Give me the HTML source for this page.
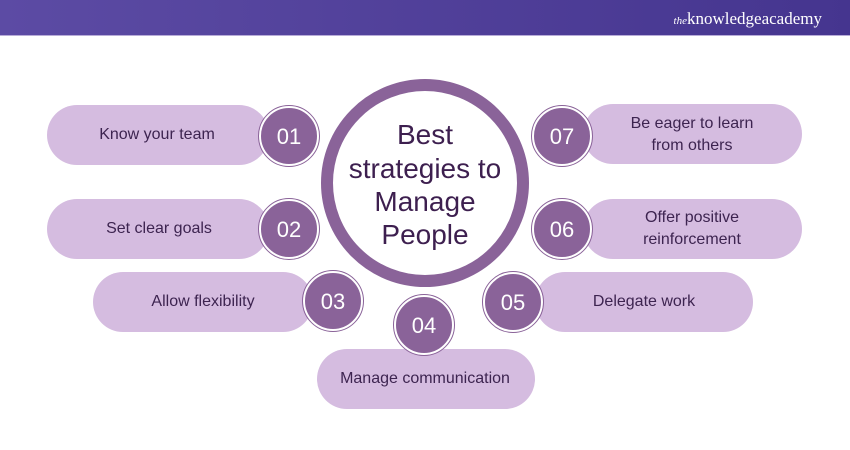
<!DOCTYPE html>
<html><head><meta charset="utf-8"><style>
body{margin:0;background:#fff;}
svg{display:block;}
text{font-family:"Liberation Sans",sans-serif;}
</style></head><body>
<svg width="850" height="450" viewBox="0 0 850 450" xmlns="http://www.w3.org/2000/svg">
<defs><linearGradient id="hg" x1="0" x2="1"><stop offset="0" stop-color="#5c4ba4"/><stop offset="1" stop-color="#45358f"/></linearGradient></defs>
<rect x="0" y="0" width="850" height="36" fill="url(#hg)"/>
<rect x="0" y="35" width="850" height="1" fill="#b8acd8"/>
<text x="822" y="24" text-anchor="end" fill="#fff" font-size="17" style="font-family:'Liberation Serif',serif"><tspan font-style="italic" font-size="11">the</tspan>knowledgeacademy</text>

<g fill="#d5bce0">
<rect x="47" y="105" width="222" height="60" rx="30"/>
<rect x="47" y="199" width="222" height="60" rx="30"/>
<rect x="93" y="272" width="220" height="60" rx="30"/>
<rect x="317" y="349" width="218" height="60" rx="30"/>
<rect x="535" y="272" width="218" height="60" rx="30"/>
<rect x="583" y="104" width="219" height="60" rx="30"/>
<rect x="583" y="199" width="219" height="60" rx="30"/>
</g>
<g fill="#3d2450" font-size="16" text-anchor="middle">
<text x="157" y="139">Know your team</text>
<text x="159" y="233">Set clear goals</text>
<text x="203" y="306">Allow flexibility</text>
<text x="425" y="383">Manage communication</text>
<text x="644" y="306">Delegate work</text>
<text x="692" y="128">Be eager to learn</text>
<text x="692" y="150">from others</text>
<text x="692" y="222">Offer positive</text>
<text x="692" y="244">reinforcement</text>
</g>

<circle cx="425" cy="183" r="98" fill="#fff" stroke="#8a6399" stroke-width="12"/>
<g fill="#3d1f4f" font-size="28" text-anchor="middle">
<text x="425" y="144">Best</text>
<text x="425" y="178">strategies to</text>
<text x="425" y="211">Manage</text>
<text x="425" y="244">People</text>
</g>

<g fill="#8a6399" stroke="#fff" stroke-width="2">
<circle cx="289" cy="136" r="29"/>
<circle cx="289" cy="229" r="29"/>
<circle cx="333" cy="301" r="29"/>
<circle cx="424" cy="325" r="29"/>
<circle cx="513" cy="302" r="29"/>
<circle cx="562" cy="229" r="29"/>
<circle cx="562" cy="136" r="29"/>
</g>
<g fill="none" stroke="#8a6399" stroke-width="1">
<circle cx="289" cy="136" r="30.5"/>
<circle cx="289" cy="229" r="30.5"/>
<circle cx="333" cy="301" r="30.5"/>
<circle cx="424" cy="325" r="30.5"/>
<circle cx="513" cy="302" r="30.5"/>
<circle cx="562" cy="229" r="30.5"/>
<circle cx="562" cy="136" r="30.5"/>
</g>
<g fill="#fff" font-size="22" text-anchor="middle">
<text x="289" y="144">01</text>
<text x="289" y="237">02</text>
<text x="333" y="309">03</text>
<text x="424" y="333">04</text>
<text x="513" y="310">05</text>
<text x="562" y="237">06</text>
<text x="562" y="144">07</text>
</g>
</svg>
</body></html>
